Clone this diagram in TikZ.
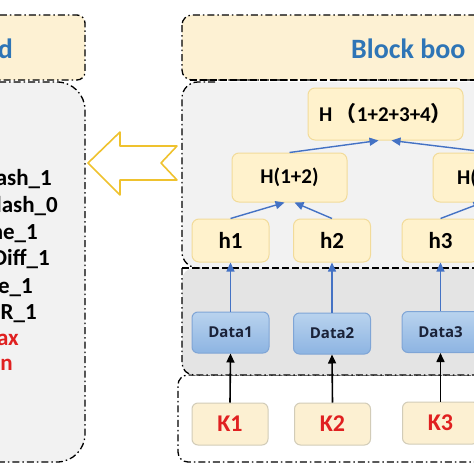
\documentclass[tikz,border=0pt]{standalone}
\usepackage{fontspec}
\setmainfont{Carlito}
\newfontfamily\cjkfont{Noto Sans CJK SC}
\newfontfamily\datafont{Open Sans}
\usetikzlibrary{arrows.meta}
\definecolor{tanfill}{HTML}{FDF1D3}
\definecolor{lightgray}{HTML}{F2F2F2}
\definecolor{midgray}{HTML}{E4E4E4}
\definecolor{hfill}{HTML}{FFF2CC}
\definecolor{hedge}{HTML}{F2DB9A}
\definecolor{kfill}{HTML}{FCF0D2}
\definecolor{kedge}{HTML}{D2CCB8}
\definecolor{dtop}{HTML}{B9D3EE}
\definecolor{dbot}{HTML}{8DB4E2}
\definecolor{dedge}{HTML}{7FA5D6}
\definecolor{navytext}{HTML}{1A2238}
\definecolor{kred}{HTML}{E02020}
\definecolor{arrowblue}{HTML}{4472C4}
\definecolor{titleblue}{HTML}{2E75B6}
\definecolor{gold}{HTML}{EFC22E}
\tikzset{
  dashdot/.style={dash pattern=on 7pt off 3pt on 1.5pt off 3pt, line width=1.3pt},
  longdash/.style={dash pattern=on 7pt off 3pt, line width=1.3pt},
  hbox/.style={draw=hedge, fill=hfill, rounded corners=7pt, line width=1pt,
    font=\bfseries\fontsize{21}{25}\selectfont, inner sep=0pt},
  databox/.style={draw=dedge, top color=dtop, bottom color=dbot, rounded corners=6pt,
    line width=1pt, font=\datafont\bfseries\fontsize{15}{18}\selectfont, text=navytext,
    inner sep=0pt, minimum width=77pt, minimum height=41pt},
  kbox/.style={draw=kedge, fill=kfill, rounded corners=6pt, line width=1pt,
    text=kred, font=\bfseries\fontsize{24}{28}\selectfont, inner sep=0pt,
    minimum width=76pt, minimum height=42pt},
  barrow/.style={draw=arrowblue, line width=1.4pt, -{Triangle[length=9pt,width=8pt]}},
  karrow/.style={draw=black, line width=1.6pt, -{Triangle[length=9pt,width=8pt]}},
  lefttext/.style={anchor=base east, inner sep=0pt, font=\bfseries\fontsize{23}{27}\selectfont},
  titletext/.style={inner sep=0pt, text=titleblue, font=\bfseries\fontsize{28}{32}\selectfont}
}
\begin{document}
\begin{tikzpicture}[x=1pt,y=-1pt]
\useasboundingbox (0,0) rectangle (474,474);
\clip (0,0) rectangle (474,474);

% ---------- left panel ----------
\draw[dashdot, fill=tanfill, rounded corners=8pt] (-30,15) rectangle (85,80);
\draw[dashdot, fill=lightgray, rounded corners=28pt] (-30,82) -- (85,82) -- (85,462) -- (-30,462);
\node[titletext, anchor=base east] (lt) at (13,58) {d};

\node[lefttext] (l1) at (52,185) {ash\_1};
\node[lefttext] (l2) at (58,212) {lash\_0};
\node[lefttext] (l3) at (38,239) {ne\_1};
\node[lefttext] (l4) at (50,265) {Diff\_1};
\node[lefttext] (l5) at (33,293) {e\_1};
\node[lefttext] (l6) at (37,319) {R\_1};
\node[lefttext, text=kred] (l7) at (19,345) {ax};
\node[lefttext, text=kred] (l8) at (13,370) {in};

% yellow outline arrow
\draw[draw=gold, fill=white, line width=1.6pt, line join=round]
  (88,163) -- (120,132) -- (120,146) -- (177,146) -- (161,163) -- (177,180)
  -- (120,180) -- (120,195) -- cycle;

% ---------- right panel regions ----------
% K level
\fill[white] (178,375) rectangle (500,462);
\draw[dashdot, rounded corners=10pt] (500,375) -- (178,375) -- (178,462) -- (500,462);
% data level
\fill[midgray, rounded corners=12pt] (182,268) -- (182,375) -- (500,375) -- (500,268) -- cycle;
\draw[dashdot, rounded corners=12pt] (182,268) -- (182,375) -- (500,375);
% H level
\fill[lightgray, rounded corners=16pt] (500,82) -- (182,82) -- (182,268) -- (500,268) -- cycle;
\draw[dashdot, rounded corners=16pt] (215,82) -- (182,82) -- (182,268) -- (200,268);
\draw[longdash] (182,268) -- (500,268);
% header
\draw[dashdot, fill=tanfill, rounded corners=10pt] (182,15) rectangle (500,80);
\draw[longdash] (190,80) -- (500,80);
\node[titletext, anchor=base west] (rt) at (351,58) {Block boo};

% ---------- nodes ----------
\node[hbox, minimum width=155pt, minimum height=52pt] (H1234) at (385.5,114)
  {H\,{\cjkfont （}1+2+3+4{\cjkfont ）}};
\node[hbox, minimum width=115pt, minimum height=49pt] (H12) at (289.5,177.5) {H(1+2)};
\node[hbox, minimum width=115pt, minimum height=49pt] (H34) at (490.5,177.5) {};
\node[inner sep=0pt, anchor=base west, font=\bfseries\fontsize{21}{25}\selectfont] (H34t) at (457,184) {H(};

\node[hbox, minimum width=77pt, minimum height=43pt, font=\bfseries\fontsize{23}{27}\selectfont] (h1) at (230.5,240.5) {h1};
\node[hbox, minimum width=77pt, minimum height=43pt, font=\bfseries\fontsize{23}{27}\selectfont] (h2) at (332,240.5) {h2};
\node[hbox, minimum width=77pt, minimum height=43pt, font=\bfseries\fontsize{23}{27}\selectfont] (h3) at (440.5,240.5) {h3};

\node[databox] (d1) at (230.5,332.5) {Data1};
\node[databox] (d2) at (332,333.5) {Data2};
\node[databox] (d3) at (440.5,332) {Data3};

\node[kbox] (k1) at (230,424) {K1};
\node[kbox] (k2) at (332.5,424) {K2};
\node[kbox] (k3) at (440.5,423) {K3};

% ---------- connectors ----------
\draw[karrow] (k1.north) -- (d1.south);
\draw[karrow] (k2.north) -- (d2.south);
\draw[karrow] (k3.north) -- (d3.south);

\draw[barrow] (d1.north) -- (h1.south);
\draw[barrow] (d2.north) -- (h2.south);
\draw[barrow] (d3.north) -- (h3.south);

\draw[barrow] (h1.north) -- ([xshift=-5pt]H12.south);
\draw[barrow] (h2.north) -- ([xshift=5pt]H12.south);
\draw[barrow] (h3.north) -- ([xshift=-8pt]H34.south);

\draw[barrow] (H12.north) -- ([xshift=-7pt]H1234.south);
\draw[barrow] (H34.north) -- ([xshift=6pt]H1234.south);
\end{tikzpicture}
\end{document}
